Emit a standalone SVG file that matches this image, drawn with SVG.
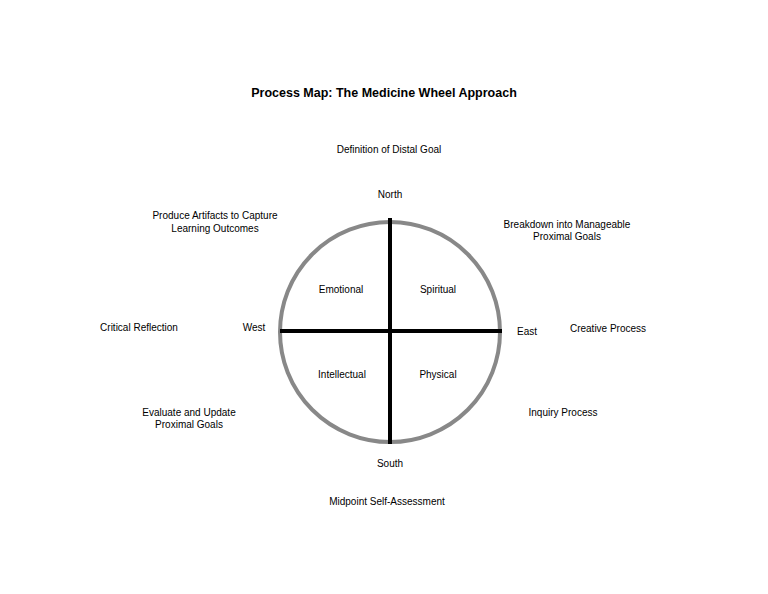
<svg xmlns="http://www.w3.org/2000/svg" width="768" height="594" viewBox="0 0 768 594">
<style>
text{font-family:"Liberation Sans",Arial,sans-serif;font-size:10px;fill:#000;text-anchor:middle}
.t{font-size:12.5px;font-weight:bold}
.c{fill:none;stroke:#888;stroke-width:4}
.x{stroke:#000;stroke-width:4}
</style>
<rect width="768" height="594" fill="#fff"/>
<text class="t" x="384" y="97">Process Map: The Medicine Wheel Approach</text>
<g id="wheel"><circle class="c" cx="390" cy="332" r="110"/></g>
<g id="connectors">
<line class="x" x1="390" y1="218" x2="390" y2="444"/>
<line class="x" x1="280" y1="331" x2="502" y2="331"/>
</g>
<g id="labels">
<text x="389" y="153">Definition of Distal Goal</text>
<text x="390" y="198">North</text>
<text x="390" y="467">South</text>
<text x="254" y="331">West</text>
<text x="527" y="335">East</text>
<text x="341" y="293">Emotional</text>
<text x="438" y="293">Spiritual</text>
<text x="342" y="378">Intellectual</text>
<text x="438" y="378">Physical</text>
<text x="215" y="219">Produce Artifacts to Capture</text>
<text x="215" y="232">Learning Outcomes</text>
<text x="567" y="228">Breakdown into Manageable</text>
<text x="567" y="240">Proximal Goals</text>
<text x="139" y="331">Critical Reflection</text>
<text x="608" y="332">Creative Process</text>
<text x="189" y="416">Evaluate and Update</text>
<text x="189" y="428">Proximal Goals</text>
<text x="563" y="416">Inquiry Process</text>
<text x="387" y="505">Midpoint Self-Assessment</text>
</g>
</svg>
